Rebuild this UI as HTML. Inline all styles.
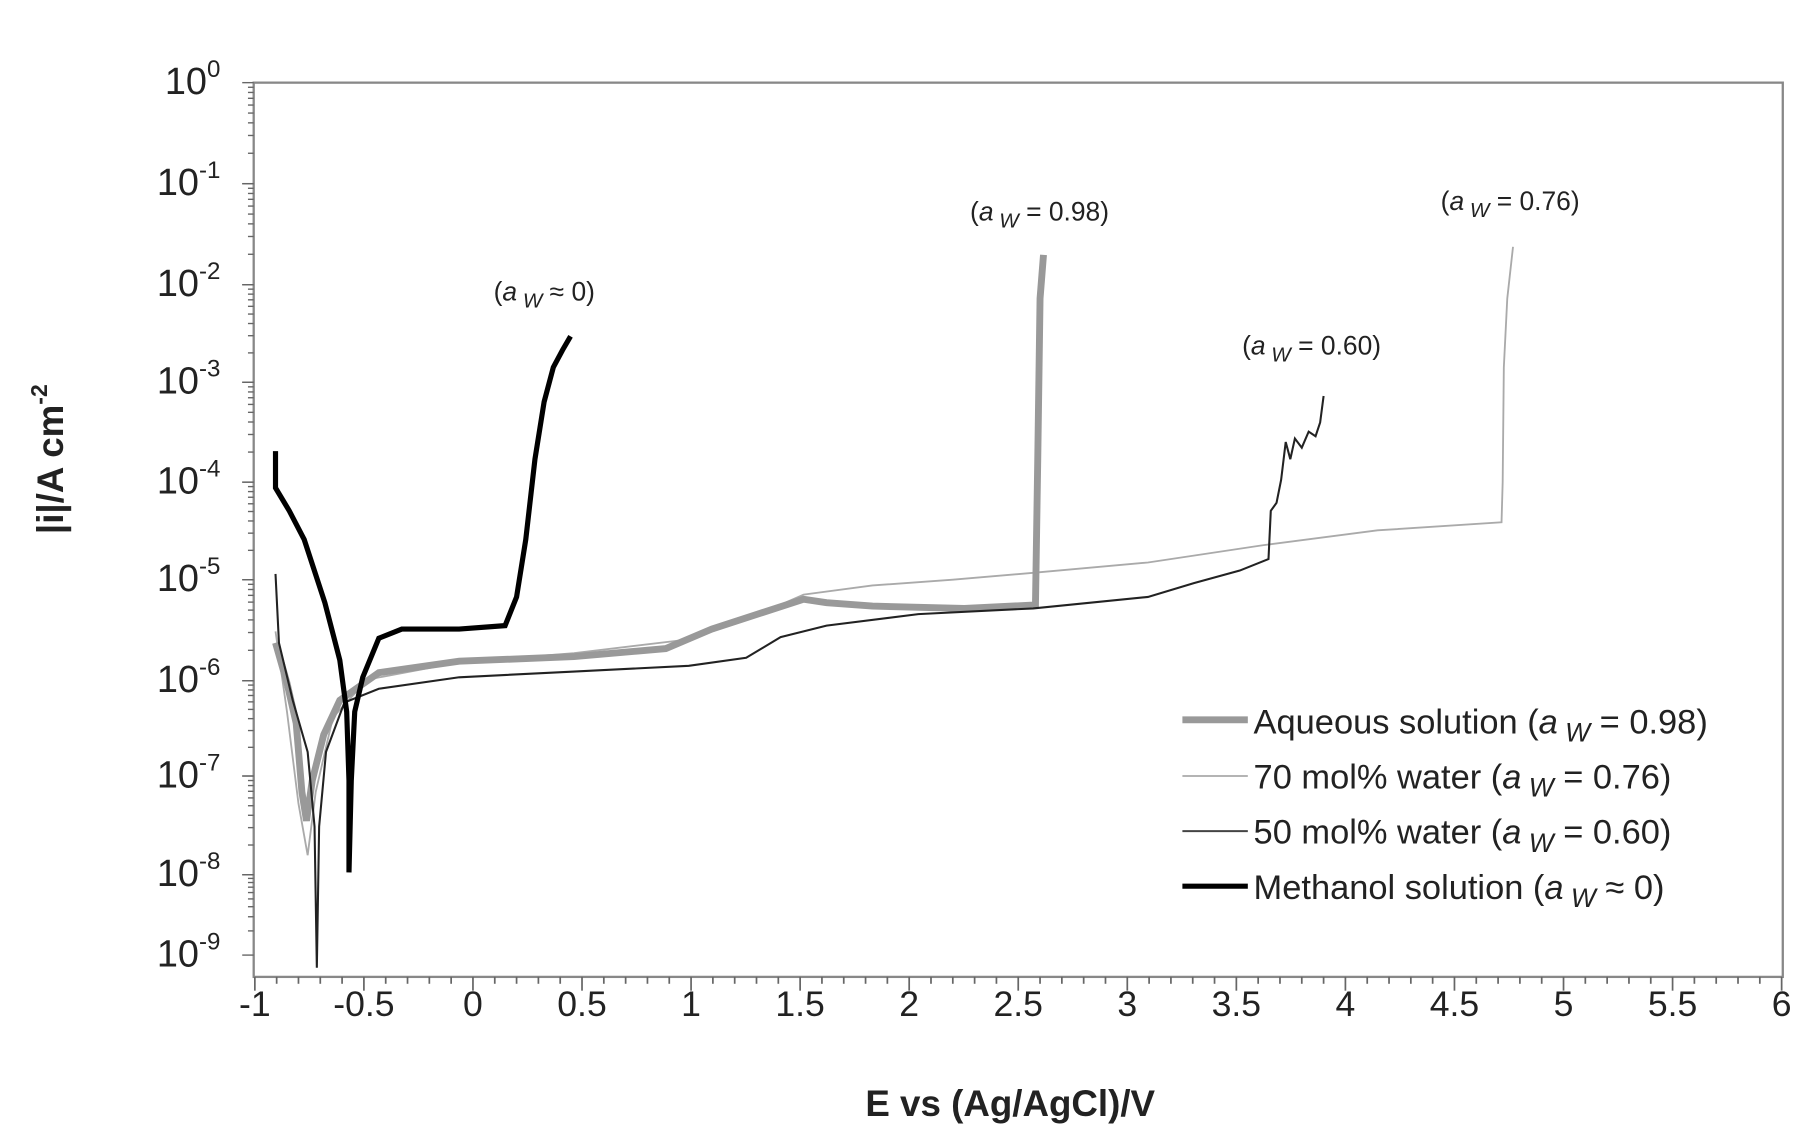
<!DOCTYPE html>
<html><head><meta charset="utf-8"><style>
html,body{margin:0;padding:0;background:#fff}
svg{display:block}
text{font-family:"Liberation Sans",Arial,sans-serif;fill:#222}
</style></head><body>
<svg width="1800" height="1129" viewBox="0 0 1568 983.5" preserveAspectRatio="none" xmlns="http://www.w3.org/2000/svg">
<rect x="0" y="0" width="1568" height="983.5" fill="#fff"/>
<rect x="221" y="72" width="1332" height="779" fill="none" stroke="#888" stroke-width="2"/>
<g id="yticks" stroke="#666" stroke-width="1.2"></g>
<g id="xticks" stroke="#666" stroke-width="1.5"></g>
<g font-size="33" text-anchor="end">
<text x="192" y="82">10<tspan font-size="21" dy="-15">0</tspan></text>
<text x="192" y="170">10<tspan font-size="21" dy="-15">-1</tspan></text>
<text x="192" y="258">10<tspan font-size="21" dy="-15">-2</tspan></text>
<text x="192" y="343">10<tspan font-size="21" dy="-15">-3</tspan></text>
<text x="192" y="430">10<tspan font-size="21" dy="-15">-4</tspan></text>
<text x="192" y="515">10<tspan font-size="21" dy="-15">-5</tspan></text>
<text x="192" y="603">10<tspan font-size="21" dy="-15">-6</tspan></text>
<text x="192" y="686">10<tspan font-size="21" dy="-15">-7</tspan></text>
<text x="192" y="772">10<tspan font-size="21" dy="-15">-8</tspan></text>
<text x="192" y="842">10<tspan font-size="21" dy="-15">-9</tspan></text>
</g>
<g font-size="31" text-anchor="middle">
<text x="222" y="885">-1</text><text x="317" y="885">-0.5</text><text x="412" y="885">0</text>
<text x="507" y="885">0.5</text><text x="602" y="885">1</text><text x="697" y="885">1.5</text>
<text x="792" y="885">2</text><text x="887" y="885">2.5</text><text x="982" y="885">3</text>
<text x="1077" y="885">3.5</text><text x="1172" y="885">4</text><text x="1267" y="885">4.5</text>
<text x="1362" y="885">5</text><text x="1457" y="885">5.5</text><text x="1552" y="885">6</text>
</g>
<text x="880" y="972" font-size="32" font-weight="bold" text-anchor="middle">E vs (Ag/AgCl)/V</text>
<text transform="translate(55,400) rotate(-90)" font-size="32" font-weight="bold" text-anchor="middle">|i|/A cm<tspan font-size="20" dy="-14">-2</tspan></text>

<polyline fill="none" stroke="#aaa" stroke-width="1.6" points="240,550 250,620 260,700 268,745 275,690 290,625 320,592 400,577 500,569 600,557 650,540 700,518 760,510 830,505 900,499 1000,490 1100,475 1200,462 1308,455 1309,420 1310,320 1313,260 1318,215"/>
<polyline fill="none" stroke="#999" stroke-width="6" points="240,560 250,595 258,630 263,690 267,715 272,680 282,640 296,610 330,586 400,576 500,572 580,565 620,548 660,535 700,522 720,525 760,528 840,530 902,527 904,400 906,260 909,222"/>
<polyline fill="none" stroke="#222" stroke-width="1.8" points="240,500 243,560 255,610 268,655 274,720 276,843 278,720 284,655 300,612 330,600 400,590 500,585 600,580 650,573 680,555 720,545 800,535 900,530 1000,520 1040,508 1080,497 1105,487 1107,445 1112,438 1116,418 1120,385 1124,400 1128,382 1134,390 1140,376 1146,380 1150,368 1153,345"/>
<polyline fill="none" stroke="#000" stroke-width="4.5" points="240,393 240,425 252,445 265,470 283,525 296,575 302,620 304,680 304,760 306,680 309,620 316,590 330,556 350,548 400,548 440,545 450,520 458,470 466,400 474,350 482,320 490,305 497,293"/>

<g font-size="23">
<text x="845" y="192">(<tspan font-style="italic">a</tspan><tspan font-style="italic" font-size="18" dy="6"> W</tspan><tspan dy="-6"> = 0.98)</tspan></text>
<text x="1255" y="183">(<tspan font-style="italic">a</tspan><tspan font-style="italic" font-size="18" dy="6"> W</tspan><tspan dy="-6"> = 0.76)</tspan></text>
<text x="1082" y="309">(<tspan font-style="italic">a</tspan><tspan font-style="italic" font-size="18" dy="6"> W</tspan><tspan dy="-6"> = 0.60)</tspan></text>
<text x="430" y="262">(<tspan font-style="italic">a</tspan><tspan font-style="italic" font-size="18" dy="6"> W</tspan><tspan dy="-6"> ≈ 0)</tspan></text>
</g>
<line x1="1030" y1="627" x2="1087" y2="627" stroke="#999" stroke-width="6"/>
<line x1="1030" y1="676" x2="1087" y2="676" stroke="#aaa" stroke-width="1.6"/>
<line x1="1030" y1="724" x2="1087" y2="724" stroke="#444" stroke-width="1.8"/>
<line x1="1030" y1="772" x2="1087" y2="772" stroke="#000" stroke-width="4.5"/>
<g font-size="30">
<text x="1092" y="639">Aqueous solution (<tspan font-style="italic">a</tspan><tspan font-style="italic" font-size="23" dy="7"> W</tspan><tspan dy="-7"> = 0.98)</tspan></text>
<text x="1092" y="687">70 mol% water (<tspan font-style="italic">a</tspan><tspan font-style="italic" font-size="23" dy="7"> W</tspan><tspan dy="-7"> = 0.76)</tspan></text>
<text x="1092" y="735">50 mol% water (<tspan font-style="italic">a</tspan><tspan font-style="italic" font-size="23" dy="7"> W</tspan><tspan dy="-7"> = 0.60)</tspan></text>
<text x="1092" y="783">Methanol solution (<tspan font-style="italic">a</tspan><tspan font-style="italic" font-size="23" dy="7"> W</tspan><tspan dy="-7"> ≈  0)</tspan></text>
</g>
<script>
(function(){
var ns="http://www.w3.org/2000/svg";
var yp=[72,160,248,333,420,505,593,676,762,832];
var yg=document.getElementById("yticks");
for(var d=0;d<9;d++){var a=yp[d],b=yp[d+1];
 for(var k=1;k<=10;k++){var y=a+(b-a)*(1-Math.log10(k)); var l=document.createElementNS(ns,"line");
  var len=(k==1||k==10)?10:5; l.setAttribute("x1",221-len);l.setAttribute("x2",221);l.setAttribute("y1",y);l.setAttribute("y2",y);yg.appendChild(l);}}
var xg=document.getElementById("xticks");
for(var i=0;i<=70;i++){var x=222+19*i;var l=document.createElementNS(ns,"line");var len=(i%5==0)?12:6;
 l.setAttribute("x1",x);l.setAttribute("x2",x);l.setAttribute("y1",851);l.setAttribute("y2",851+len);xg.appendChild(l);}
})();
</script>
</svg>
</body></html>
